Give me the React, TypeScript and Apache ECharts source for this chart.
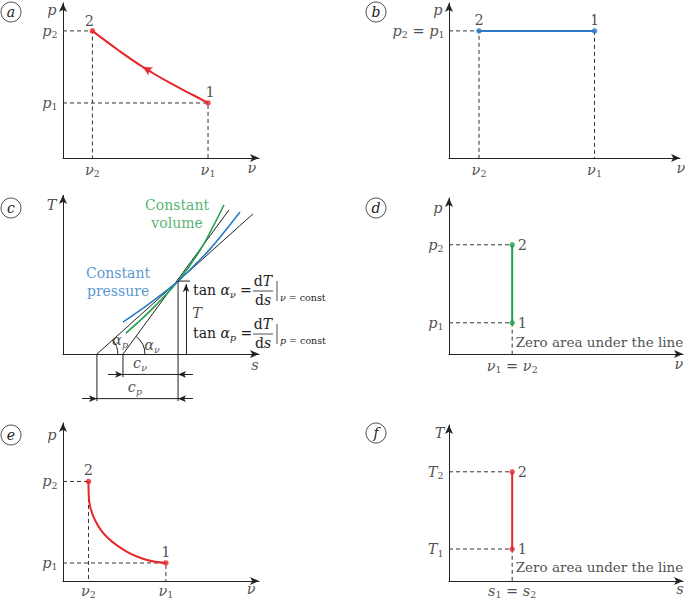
import React, { useEffect, useRef } from "react";
import * as echarts from "echarts";

const FONT = '"DejaVu Serif", "Liberation Serif", serif';
const INK = "#222222";
const RED = "#e7262b";
const BLUE = "#2b7bc5";
const GREEN = "#1fa24c";

// ---------- Panel (a): p–v, compression 1 -> 2 ----------
const aV = [1.5, 7.4]; // v2, v1
const aP = [8.2, 3.55]; // p2, p1
const aCurveV = [1.5, 2.81, 4.08, 5.46, 6.73, 7.4];
const aCurveP = [8.2, 6.97, 5.87, 4.84, 4.0, 3.55];
const aArrowFrom = [4.5, 5.56];
const aArrowTo = [4.08, 5.87];

// ---------- Panel (b): p–v, constant pressure ----------
const bV = [1.3, 6.3]; // v2, v1
const bP = 8.2; // p2 = p1

// ---------- Panel (c): T–s, slopes ----------
const cPivot = [5.87, 4.59];
const cTangentP = [[1.73, 0], [9.69, 8.81]];
const cTangentV = [[3.06, 0], [8.47, 9.06]];
const cGreenS = [3.21, 4.44, 5.87, 7.09, 8.21];
const cGreenT = [1.32, 2.7, 4.59, 6.73, 9.37];
const cBlueS = [3.06, 4.44, 5.87, 7.5, 9.03];
const cBlueT = [2.01, 3.21, 4.59, 6.6, 8.93];
const cCvLevel = -1.28;
const cCpLevel = -2.8;
const cArcs = [
  [1.73, 0, 1.07], // alpha_p: centre s, centre T, radius (s units)
  [3.06, 0, 1.12], // alpha_v
];

// ---------- Panel (d): p–v, constant volume ----------
const dV = 2.7;
const dP = [7.0, 2.0]; // p2, p1

// ---------- Panel (e): p–v ----------
const eV = [1.3, 5.25]; // v2, v1
const eP = [6.3, 1.14]; // p2, p1
const eCurveV = [1.3, 1.33, 1.63, 2.24, 3.27, 4.29, 5.25];
const eCurveP = [6.3, 5.13, 3.86, 2.78, 1.84, 1.33, 1.14];

// ---------- Panel (f): T–s, isentropic ----------
const fS = 2.7;
const fT = [7.0, 2.05]; // T2, T1

const zip = (xs: number[], ys: number[]) => xs.map((x, i) => [x, ys[i]]);

const rich: any = {
  i: { fontFamily: FONT, fontStyle: "italic", fontSize: 14.5, color: INK },
  n: { fontFamily: FONT, fontSize: 14.5, color: INK },
  s: { fontFamily: FONT, fontSize: 9.5, color: INK, padding: [8, 0, 0, 0] },
  si: { fontFamily: FONT, fontStyle: "italic", fontSize: 9.5, color: INK, padding: [8, 0, 0, 0] },
  z: { fontFamily: FONT, fontSize: 13.5, color: INK },
};

const grids = [
  { left: 63, top: 3, width: 196, height: 155 },
  { left: 449, top: 3, width: 231, height: 155 },
  { left: 63, top: 195, width: 196, height: 210 },
  { left: 449, top: 198, width: 234, height: 156 },
  { left: 63, top: 423, width: 196, height: 158 },
  { left: 449, top: 425, width: 234, height: 156 },
];
const yMins = [0, 0, -3.2, 0, 0, 0];

const axisLine = (show: boolean) => ({
  show,
  onZero: true,
  symbol: ["none", "arrow"],
  symbolSize: [6, 9],
  lineStyle: { color: INK, width: 1 },
});

const seg = (g: number, pts: number[][], color = INK, width = 1, type: any = "solid", extra: any = {}) => ({
  type: "line",
  xAxisIndex: g,
  yAxisIndex: g,
  data: pts,
  symbol: "none",
  silent: true,
  clip: false,
  lineStyle: { color, width, type },
  z: 2,
  ...extra,
});
const dash = (g: number, pts: number[][]) => seg(g, pts, "#333", 1, [4, 3]);
const dots = (g: number, pts: number[][], color: string) => ({
  type: "scatter",
  xAxisIndex: g,
  yAxisIndex: g,
  data: pts,
  symbolSize: 5.5,
  itemStyle: { color },
  silent: true,
  z: 5,
});
const L = (value: number[], formatter: string, position: any, distance = 4, extra: any = {}) => ({
  value,
  label: { show: true, formatter, position, distance, ...extra },
});
const labels = (g: number, items: any[]) => ({
  type: "scatter",
  xAxisIndex: g,
  yAxisIndex: g,
  symbolSize: 1,
  itemStyle: { color: "rgba(0,0,0,0)" },
  silent: true,
  clip: false,
  z: 6,
  data: items,
  label: { show: true, color: INK, fontFamily: FONT, fontSize: 14.5, rich },
});
const arrowMarks = (pairs: number[][][], color = INK, width = 1, size = [5, 8]) => ({
  silent: true,
  symbol: ["none", "arrow"],
  symbolSize: size,
  label: { show: false },
  lineStyle: { type: "solid", color, width },
  emphasis: { disabled: true },
  data: pairs.map(([a, b]) => [{ coord: a }, { coord: b }]),
});

const tags = ["a", "b", "c", "d", "e", "f"];
const tagPos = [[11, 12], [376, 12], [11, 208], [376, 208], [11, 435], [376, 433]];

function buildOption(): any {
  const series: any[] = [];

  // (a)
  series.push(dash(0, [[0, aP[0]], [aV[0], aP[0]], [aV[0], 0]]));
  series.push(dash(0, [[0, aP[1]], [aV[1], aP[1]], [aV[1], 0]]));
  series.push(seg(0, zip(aCurveV, aCurveP), RED, 2, "solid", { smooth: 0.4, markLine: arrowMarks([[aArrowFrom, aArrowTo]], RED, 2, [7, 9]) }));
  series.push(dots(0, [[aV[0], aP[0]], [aV[1], aP[1]]], RED));
  series.push(labels(0, [
    L([0, 9.55], "{i|p}", "left", 6),
    L([0, aP[0]], "{i|p}{s|2}", "left", 5),
    L([0, aP[1]], "{i|p}{s|1}", "left", 5),
    L([aV[0], 0], "{i|ν}{s|2}", "bottom", 2),
    L([aV[1], 0], "{i|ν}{s|1}", "bottom", 2),
    L([9.64, 0], "{i|ν}", "bottom", 2),
    L([aV[0], aP[0]], "{n|2}", "top", 2, { offset: [-3, 0] }),
    L([aV[1], aP[1]], "{n|1}", "top", 3, { offset: [2, 0] }),
  ]));

  // (b)
  series.push(dash(1, [[0, bP], [bV[0], bP], [bV[0], 0]]));
  series.push(dash(1, [[bV[1], bP], [bV[1], 0]]));
  series.push(seg(1, [[bV[0], bP], [bV[1], bP]], BLUE, 2));
  series.push(dots(1, [[bV[0], bP], [bV[1], bP]], BLUE));
  series.push(labels(1, [
    L([0, 9.55], "{i|p}", "left", 6),
    L([0, bP], "{i|p}{s|2}{n| = }{i|p}{s|1}", "left", 4),
    L([bV[0], bP], "{n|2}", "top", 3),
    L([bV[1], bP], "{n|1}", "top", 3),
    L([bV[0], 0], "{i|ν}{s|2}", "bottom", 2),
    L([bV[1], 0], "{i|ν}{s|1}", "bottom", 2),
    L([10, 0], "{i|ν}", "bottom", 2, { offset: [1, 0] }),
  ]));

  // (c)
  series.push(seg(2, [[0, 0], [0, 0.01]], INK, 1, "solid", { markLine: arrowMarks([[[0, 0], [0, 10]]], INK, 1, [6, 9]) }));
  series.push(seg(2, cTangentP));
  series.push(seg(2, cTangentV));
  series.push(seg(2, zip(cGreenS, cGreenT), GREEN, 1.6, "solid", { smooth: 0.3 }));
  series.push(seg(2, zip(cBlueS, cBlueT), BLUE, 1.6, "solid", { smooth: 0.3 }));
  series.push(seg(2, [cPivot, [cPivot[0], -2.96]]));
  series.push(seg(2, [cPivot, [6.48, cPivot[1]]]));
  series.push(seg(2, [cTangentP[0], [cTangentP[0][0], -2.96]]));
  series.push(seg(2, [cTangentV[0], [cTangentV[0][0], -1.45]]));
  series.push(seg(2, [[cTangentV[0][0], cCvLevel], [cPivot[0], cCvLevel]]));
  series.push(seg(2, [[cTangentP[0][0], cCpLevel], [cPivot[0], cCpLevel]], INK, 1, "solid", {
    markLine: arrowMarks([
      [[2.3, cCvLevel], [cTangentV[0][0], cCvLevel]],
      [[6.63, cCvLevel], [cPivot[0], cCvLevel]],
      [[0.97, cCpLevel], [cTangentP[0][0], cCpLevel]],
      [[6.63, cCpLevel], [cPivot[0], cCpLevel]],
      [[6.28, 0], [6.28, 4.4]],
    ]),
  }));
  series.push({
    type: "custom",
    xAxisIndex: 2,
    yAxisIndex: 2,
    silent: true,
    clip: false,
    data: cArcs.map((a) => [a[0], a[1], a[2], cPivot[0], cPivot[1]]),
    renderItem: (_p: any, api: any) => {
      const c = api.coord([api.value(0), api.value(1)]);
      const e = api.coord([api.value(0) + api.value(2), api.value(1)]);
      const t = api.coord([api.value(3), api.value(4)]);
      const r = e[0] - c[0];
      const ang = Math.atan2(t[1] - c[1], t[0] - c[0]);
      return {
        type: "arc",
        shape: { cx: c[0], cy: c[1], r, startAngle: ang, endAngle: 0, clockwise: true },
        style: { stroke: INK, fill: null, lineWidth: 1 },
      };
    },
  });
  series.push(labels(2, [
    L([0, 9.37], "{i|T}", "left", 6),
    L([9.8, 0], "{i|s}", "bottom", 3),
    { value: [5.82, 8.8], label: { show: true, formatter: "Constant\nvolume", position: "inside", color: GREEN, fontSize: 14, lineHeight: 18, fontFamily: FONT } },
    { value: [2.81, 4.53], label: { show: true, formatter: "Constant\npressure", position: "inside", color: BLUE, fontSize: 14, lineHeight: 18, fontFamily: FONT } },
    L([2.91, 0.88], "{i|α}{si|p}", "inside"),
    L([4.54, 0.57], "{i|α}{si|ν}", "inside"),
    L([3.93, -0.57], "{i|c}{si|ν}", "inside"),
    L([3.67, -2.08], "{i|c}{si|p}", "inside"),
    L([6.84, 2.58], "{i|T}", "inside"),
  ]));

  // (d)
  series.push(dash(3, [[0, dP[0]], [dV, dP[0]]]));
  series.push(dash(3, [[0, dP[1]], [dV, dP[1]], [dV, 0]]));
  series.push(seg(3, [[dV, dP[1]], [dV, dP[0]]], GREEN, 2));
  series.push(dots(3, [[dV, dP[0]], [dV, dP[1]]], GREEN));
  series.push(labels(3, [
    L([0, 9.36], "{i|p}", "left", 6),
    L([0, dP[0]], "{i|p}{s|2}", "left", 5),
    L([0, dP[1]], "{i|p}{s|1}", "left", 5),
    L([dV, dP[0]], "{n|2}", "right", 5),
    L([dV, dP[1]], "{n|1}", "right", 5),
    L([dV, 0.77], "{z|Zero area under the line}", "right", 3),
    L([dV, 0], "{i|ν}{s|1}{n| = }{i|ν}{s|2}", "bottom", 2),
    L([10, 0], "{i|ν}", "bottom", 2, { offset: [-4, 0] }),
  ]));

  // (e)
  series.push(dash(4, [[0, eP[0]], [eV[0], eP[0]], [eV[0], 0]]));
  series.push(dash(4, [[0, eP[1]], [eV[1], eP[1]], [eV[1], 0]]));
  series.push(seg(4, zip(eCurveV, eCurveP), RED, 2, "solid", { smooth: 0.35 }));
  series.push(dots(4, [[eV[0], eP[0]], [eV[1], eP[1]]], RED));
  series.push(labels(4, [
    L([0, 9.24], "{i|p}", "left", 6),
    L([0, eP[0]], "{i|p}{s|2}", "left", 5),
    L([0, eP[1]], "{i|p}{s|1}", "left", 5),
    L([eV[0], 0], "{i|ν}{s|2}", "bottom", 0),
    L([eV[1], 0], "{i|ν}{s|1}", "bottom", 0),
    L([9.6, 0], "{i|ν}", "bottom", 0),
    L([eV[0], eP[0]], "{n|2}", "top", 3),
    L([eV[1], eP[1]], "{n|1}", "top", 3),
  ]));

  // (f)
  series.push(dash(5, [[0, fT[0]], [fS, fT[0]]]));
  series.push(dash(5, [[0, fT[1]], [fS, fT[1]], [fS, 0]]));
  series.push(seg(5, [[fS, fT[1]], [fS, fT[0]]], RED, 2));
  series.push(dots(5, [[fS, fT[0]], [fS, fT[1]]], RED));
  series.push(labels(5, [
    L([0, 9.49], "{i|T}", "left", 4),
    L([0, fT[0]], "{i|T}{s|2}", "left", 5),
    L([0, fT[1]], "{i|T}{s|1}", "left", 5),
    L([fS, fT[0]], "{n|2}", "right", 5),
    L([fS, fT[1]], "{n|1}", "right", 5),
    L([fS, 0.9], "{z|Zero area under the line}", "right", 3),
    L([fS, 0], "{i|s}{s|1}{n| = }{i|s}{s|2}", "bottom", 0),
    L([10, 0], "{i|s}", "bottom", 0, { offset: [-3, 0] }),
  ]));

  // Panel tags and formulas (annotations)
  const graphic: any[] = [];
  tags.forEach((t, k) => {
    const [x, y] = tagPos[k];
    graphic.push({ type: "circle", shape: { cx: x, cy: y, r: 10 }, style: { stroke: INK, fill: "none", lineWidth: 0.8 }, silent: true });
    graphic.push({
      type: "text", x, y, silent: true,
      style: { text: t, fill: INK, font: `italic 14px ${FONT}`, align: "center", verticalAlign: "middle", textAlign: "center", textVerticalAlign: "middle" },
    });
  });
  const formula = (y: number, sub: string, cond: string) => {
    const fr: any = {
      n: { fontFamily: FONT, fontSize: 14, fill: INK, color: INK },
      i: { fontFamily: FONT, fontSize: 14, fontStyle: "italic", fill: INK, color: INK },
      s: { fontFamily: FONT, fontSize: 9.5, fontStyle: "italic", fill: INK, color: INK, padding: [9, 0, 0, 0] },
      c: { fontFamily: FONT, fontSize: 9.5, fill: INK, color: INK },
    };
    const mid = 263;
    graphic.push({ type: "text", x: 193, y, silent: true, style: { text: `{n|tan }{i|α}{s|${sub}}{n| =}`, rich: fr, align: "left", verticalAlign: "middle", textAlign: "left", textVerticalAlign: "middle" } });
    graphic.push({ type: "text", x: mid, y: y - 9, silent: true, style: { text: "{n|d}{i|T}", rich: fr, align: "center", verticalAlign: "middle", textAlign: "center", textVerticalAlign: "middle" } });
    graphic.push({ type: "line", silent: true, shape: { x1: mid - 10, y1: y + 1, x2: mid + 10, y2: y + 1 }, style: { stroke: INK, lineWidth: 0.8 } });
    graphic.push({ type: "text", x: mid, y: y + 10, silent: true, style: { text: "{n|d}{i|s}", rich: fr, align: "center", verticalAlign: "middle", textAlign: "center", textVerticalAlign: "middle" } });
    graphic.push({ type: "line", silent: true, shape: { x1: 277, y1: y - 9, x2: 277, y2: y + 11 }, style: { stroke: INK, lineWidth: 0.8 } });
    graphic.push({ type: "text", x: 280, y: y + 7, silent: true, style: { text: `{s2|${cond}}{c| = const}`, rich: { ...fr, s2: { ...fr.s, padding: 0 } }, align: "left", verticalAlign: "middle", textAlign: "left", textVerticalAlign: "middle" } });
  };
  formula(290, "ν", "ν");
  formula(333, "p", "p");

  return {
    animation: false,
    backgroundColor: "#ffffff",
    grid: grids,
    xAxis: grids.map((_, i) => ({
      type: "value", gridIndex: i, min: 0, max: 10,
      axisLine: axisLine(true), axisTick: { show: false }, axisLabel: { show: false }, splitLine: { show: false },
    })),
    yAxis: grids.map((_, i) => ({
      type: "value", gridIndex: i, min: yMins[i], max: 10,
      axisLine: axisLine(i !== 2), axisTick: { show: false }, axisLabel: { show: false }, splitLine: { show: false },
    })),
    series,
    graphic,
  };
}

export default function App() {
  const ref = useRef<HTMLDivElement>(null);
  useEffect(() => {
    document.body.style.margin = "0";
    const chart = echarts.init(ref.current!, undefined, { renderer: "svg" });
    chart.setOption(buildOption());
    return () => chart.dispose();
  }, []);
  return <div ref={ref} style={{ width: 685, height: 602 }} />;
}
